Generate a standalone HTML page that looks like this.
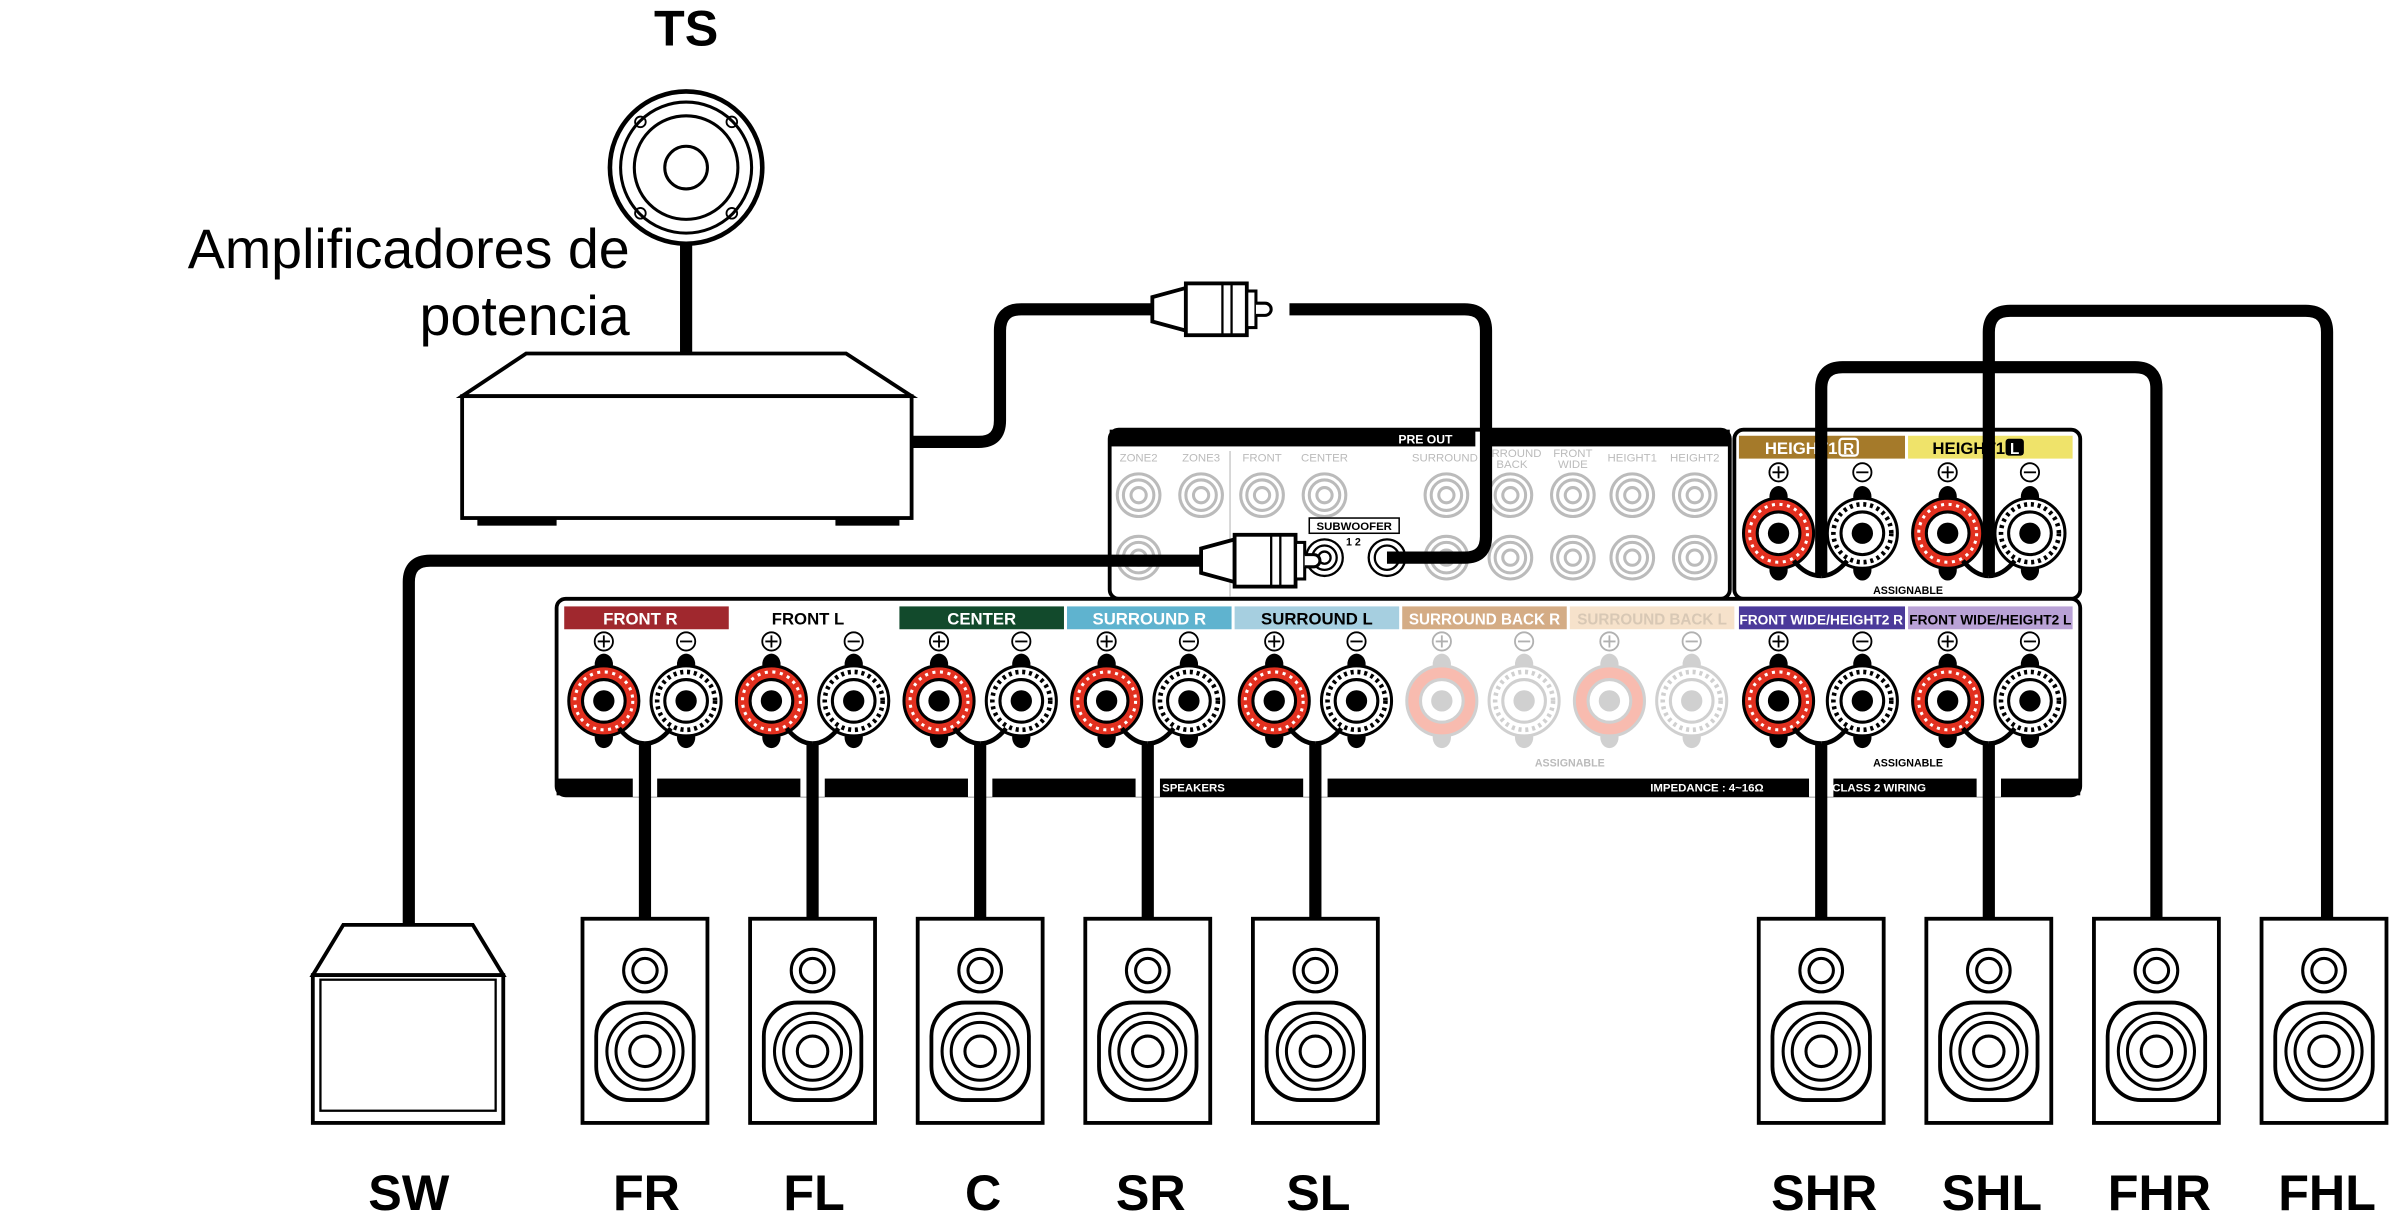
<!DOCTYPE html>
<html><head><meta charset="utf-8"><style>
html,body{margin:0;padding:0;background:#fff;}
svg{display:block;}
text{font-family:"Liberation Sans",Arial,sans-serif;}
</style></head><body>
<svg width="2390" height="1225" viewBox="0 0 1568 804" xmlns="http://www.w3.org/2000/svg">
<defs>
<g id="tp">
 <ellipse cx="0" cy="-24" rx="6" ry="7" fill="#000"/>
 <ellipse cx="0" cy="24" rx="6" ry="7" fill="#000"/>
 <circle r="23" fill="#e2301f" stroke="#000" stroke-width="2"/>
 <circle r="19" fill="none" stroke="#fff" stroke-width="2" stroke-dasharray="2 3"/>
 <circle r="14" fill="#fff" stroke="#000" stroke-width="2"/>
 <circle r="7" fill="#000"/>
</g>
<g id="tm">
 <ellipse cx="0" cy="-24" rx="6" ry="7" fill="#000"/>
 <ellipse cx="0" cy="24" rx="6" ry="7" fill="#000"/>
 <circle r="23" fill="#fff" stroke="#000" stroke-width="2"/>
 <circle r="19" fill="none" stroke="#000" stroke-width="3" stroke-dasharray="2 2.5"/>
 <circle r="14" fill="#fff" stroke="#000" stroke-width="2"/>
 <circle r="7" fill="#000"/>
</g>
<g id="tpf" opacity="0.45">
 <ellipse cx="0" cy="-24" rx="6" ry="7" fill="#999"/>
 <ellipse cx="0" cy="24" rx="6" ry="7" fill="#999"/>
 <circle r="23" fill="#f06a50" stroke="#999" stroke-width="2"/>
 <circle r="14" fill="#fff" stroke="#999" stroke-width="2"/>
 <circle r="7" fill="#999"/>
</g>
<g id="tmf" opacity="0.45">
 <ellipse cx="0" cy="-24" rx="6" ry="7" fill="#999"/>
 <ellipse cx="0" cy="24" rx="6" ry="7" fill="#999"/>
 <circle r="23" fill="#fff" stroke="#999" stroke-width="2"/>
 <circle r="19" fill="none" stroke="#999" stroke-width="3" stroke-dasharray="2 2.5"/>
 <circle r="14" fill="#fff" stroke="#999" stroke-width="2"/>
 <circle r="7" fill="#999"/>
</g>
<g id="plus"><circle r="6" fill="#fff" stroke="#000" stroke-width="1.2"/><path d="M-4 0H4M0 -4V4" stroke="#000" stroke-width="1.2"/></g>
<g id="minus"><circle r="6" fill="#fff" stroke="#000" stroke-width="1.2"/><path d="M-4 0H4" stroke="#000" stroke-width="1.2"/></g>
<g id="jack"><circle r="14" fill="#fff" stroke="#bbb" stroke-width="2"/><circle r="10" fill="none" stroke="#bbb" stroke-width="2"/><circle r="5" fill="none" stroke="#bbb" stroke-width="2"/></g>
<g id="spk">
 <rect x="-41" y="0" width="82" height="134" fill="#fff" stroke="#000" stroke-width="2.5"/>
 <circle cx="0" cy="34" r="14" fill="none" stroke="#000" stroke-width="2"/>
 <circle cx="0" cy="34" r="8" fill="none" stroke="#000" stroke-width="2"/>
 <rect x="-32" y="55" width="64" height="64" rx="22" fill="none" stroke="#000" stroke-width="2.5"/>
 <circle cx="0" cy="87" r="25" fill="none" stroke="#000" stroke-width="2"/>
 <circle cx="0" cy="87" r="19" fill="none" stroke="#000" stroke-width="2"/>
 <circle cx="0" cy="87" r="10" fill="none" stroke="#000" stroke-width="2"/>
</g>
<g id="rca">
 <path d="M0 -8 L22 -14 V14 L0 8Z" fill="#fff" stroke="#000" stroke-width="2.5"/>
 <rect x="22" y="-17" width="40" height="34" fill="#fff" stroke="#000" stroke-width="2.5"/>
 <path d="M46 -17V17M52 -17V17" stroke="#000" stroke-width="1.5"/>
 <rect x="62" y="-12" width="6" height="24" fill="#fff" stroke="#000" stroke-width="2"/>
 <path d="M68 -4 H74 a4 4 0 0 1 0 8 H68" fill="#fff" stroke="#000" stroke-width="2"/>
</g>
</defs>

<!-- TS -->
<text x="450" y="30" font-size="33" font-weight="bold" text-anchor="middle">TS</text>
<circle cx="450" cy="110" r="50" fill="#fff" stroke="#000" stroke-width="3"/>
<circle cx="450" cy="110" r="43" fill="none" stroke="#000" stroke-width="2"/>
<circle cx="450" cy="110" r="34" fill="none" stroke="#000" stroke-width="2"/>
<circle cx="450" cy="110" r="14" fill="none" stroke="#000" stroke-width="2"/>
<circle cx="420" cy="80" r="3.5" fill="none" stroke="#000" stroke-width="1.2"/>
<circle cx="480" cy="80" r="3.5" fill="none" stroke="#000" stroke-width="1.2"/>
<circle cx="420" cy="140" r="3.5" fill="none" stroke="#000" stroke-width="1.2"/>
<circle cx="480" cy="140" r="3.5" fill="none" stroke="#000" stroke-width="1.2"/>
<path d="M450 160V233" stroke="#000" stroke-width="8"/>
<text x="413" y="176" font-size="36.5" text-anchor="end">Amplificadores de</text>
<text x="413" y="220" font-size="36.5" text-anchor="end">potencia</text>

<!-- amp -->
<path d="M303 260 L345 232 H555 L598 260 Z" fill="#fff" stroke="#000" stroke-width="2.5"/>
<rect x="303" y="260" width="295" height="80" fill="#fff" stroke="#000" stroke-width="2.5"/>
<rect x="313" y="340" width="52" height="5" fill="#000"/>
<rect x="548" y="340" width="42" height="5" fill="#000"/>

<!-- receiver top panels -->
<rect x="728" y="282" width="407" height="111" rx="6" fill="#fff" stroke="#000" stroke-width="2.5"/>
<rect x="728" y="282" width="240" height="11" fill="#000"/>
<rect x="974" y="282" width="161" height="11" fill="#000"/>
<text x="953" y="291" font-size="8" font-weight="bold" fill="#fff" text-anchor="end">PRE OUT</text>
<path d="M807 296V393" stroke="#ccc" stroke-width="1"/>
<g font-size="7.5" fill="#bbb" text-anchor="middle">
<text x="747" y="303">ZONE2</text><text x="788" y="303">ZONE3</text><text x="828" y="303">FRONT</text><text x="869" y="303">CENTER</text>
<text x="948" y="303">SURROUND</text><text x="995" y="300">RROUND</text><text x="992" y="307">BACK</text><text x="1032" y="300">FRONT</text><text x="1032" y="307">WIDE</text><text x="1071" y="303">HEIGHT1</text><text x="1112" y="303">HEIGHT2</text>
</g>
<g>
<use href="#jack" x="747" y="325"/><use href="#jack" x="788" y="325"/><use href="#jack" x="828" y="325"/><use href="#jack" x="869" y="325"/>
<use href="#jack" x="949" y="325"/><use href="#jack" x="991" y="325"/><use href="#jack" x="1032" y="325"/><use href="#jack" x="1071" y="325"/><use href="#jack" x="1112" y="325"/>
<use href="#jack" x="747" y="366"/><use href="#jack" x="828" y="366"/><use href="#jack" x="949" y="366"/><use href="#jack" x="991" y="366"/><use href="#jack" x="1032" y="366"/><use href="#jack" x="1071" y="366"/><use href="#jack" x="1112" y="366"/>
</g>
<rect x="859" y="340" width="59" height="10" fill="#fff" stroke="#000" stroke-width="1"/>
<text x="888.5" y="348" font-size="7.5" font-weight="bold" text-anchor="middle">SUBWOOFER</text>
<text x="888" y="358" font-size="7" font-weight="bold" text-anchor="middle">1 2</text>
<circle cx="869" cy="366" r="12" fill="#fff" stroke="#000" stroke-width="1.5"/><circle cx="869" cy="366" r="8" fill="none" stroke="#000" stroke-width="1.5"/><circle cx="869" cy="366" r="4" fill="none" stroke="#000" stroke-width="1.5"/>
<circle cx="910" cy="366" r="12" fill="#fff" stroke="#000" stroke-width="1.5"/><circle cx="910" cy="366" r="8" fill="none" stroke="#000" stroke-width="1.5"/>

<rect x="1138" y="282" width="227" height="111" rx="6" fill="#fff" stroke="#000" stroke-width="2.5"/>
<rect x="1141" y="286" width="109" height="15" fill="#a57a2a"/>
<rect x="1252" y="286" width="108" height="15" fill="#efe36a"/>
<text x="1158" y="298" font-size="11" font-weight="bold" fill="#fff">HEIGHT1</text>
<rect x="1207" y="288" width="12" height="11" rx="2" fill="none" stroke="#fff" stroke-width="1.5"/><text x="1213" y="298" font-size="10" font-weight="bold" fill="#fff" text-anchor="middle">R</text>
<text x="1268" y="298" font-size="11" font-weight="bold">HEIGHT1</text>
<rect x="1316" y="288" width="12" height="11" rx="2" fill="#000"/><text x="1322" y="298" font-size="10" font-weight="bold" fill="#fff" text-anchor="middle">L</text>
<use href="#plus" x="1167" y="310"/><use href="#minus" x="1222" y="310"/><use href="#plus" x="1278" y="310"/><use href="#minus" x="1332" y="310"/>
<use href="#tp" x="1167" y="350"/><use href="#tm" x="1222" y="350"/><use href="#tp" x="1278" y="350"/><use href="#tm" x="1332" y="350"/>
<text x="1252" y="390" font-size="7" font-weight="bold" text-anchor="middle">ASSIGNABLE</text>

<!-- main panel -->
<rect x="365" y="393" width="1000" height="129" rx="6" fill="#fff" stroke="#000" stroke-width="2.5"/>
<rect x="365" y="511" width="1000" height="11" fill="#000"/>
<g fill="#fff">
<rect x="415" y="510" width="16" height="13"/><rect x="525" y="510" width="16" height="13"/><rect x="635" y="510" width="16" height="13"/><rect x="745" y="510" width="16" height="13"/><rect x="855" y="510" width="16" height="13"/><rect x="1187" y="510" width="16" height="13"/><rect x="1297" y="510" width="16" height="13"/>
</g>
<text x="783" y="519.5" font-size="7.5" font-weight="bold" fill="#fff" text-anchor="middle">SPEAKERS</text>
<text x="1120" y="519.5" font-size="7.5" font-weight="bold" fill="#fff" text-anchor="middle">IMPEDANCE : 4~16Ω</text>
<text x="1233" y="519.5" font-size="7.5" font-weight="bold" fill="#fff" text-anchor="middle">CLASS 2 WIRING</text>

<g font-size="11" font-weight="bold" text-anchor="middle">
<rect x="370" y="398" width="108" height="15" fill="#a0282e"/><text x="420" y="410" fill="#fff">FRONT R</text>
<text x="530" y="410">FRONT L</text>
<rect x="590" y="398" width="108" height="15" fill="#124a2c"/><text x="644" y="410" fill="#fff">CENTER</text>
<rect x="700" y="398" width="108" height="15" fill="#5fb3cf"/><text x="754" y="410" fill="#fff">SURROUND R</text>
<rect x="810" y="398" width="108" height="15" fill="#a6cfe0"/><text x="864" y="410">SURROUND L</text>
<rect x="920" y="398" width="108" height="15" fill="#d4ac85"/><text x="974" y="410" fill="#fff" font-size="10">SURROUND BACK R</text>
<rect x="1030" y="398" width="108" height="15" fill="#f6e2cb"/><text x="1084" y="410" fill="#d8c8b5" font-size="10">SURROUND BACK L</text>
<rect x="1141" y="398" width="109" height="15" fill="#4b3a9a"/><text x="1195" y="410" fill="#fff" font-size="9">FRONT WIDE/HEIGHT2 R</text>
<rect x="1252" y="398" width="108" height="15" fill="#b9a2d6"/><text x="1306" y="410" font-size="9">FRONT WIDE/HEIGHT2 L</text>
</g>
<g>
<use href="#plus" x="396" y="421"/><use href="#minus" x="450" y="421"/>
<use href="#plus" x="506" y="421"/><use href="#minus" x="560" y="421"/>
<use href="#plus" x="616" y="421"/><use href="#minus" x="670" y="421"/>
<use href="#plus" x="726" y="421"/><use href="#minus" x="780" y="421"/>
<use href="#plus" x="836" y="421"/><use href="#minus" x="890" y="421"/>
<g opacity="0.3"><use href="#plus" x="946" y="421"/><use href="#minus" x="1000" y="421"/><use href="#plus" x="1056" y="421"/><use href="#minus" x="1110" y="421"/></g>
<use href="#plus" x="1167" y="421"/><use href="#minus" x="1222" y="421"/>
<use href="#plus" x="1278" y="421"/><use href="#minus" x="1332" y="421"/>
</g>
<g>
<use href="#tp" x="396" y="460"/><use href="#tm" x="450" y="460"/>
<use href="#tp" x="506" y="460"/><use href="#tm" x="560" y="460"/>
<use href="#tp" x="616" y="460"/><use href="#tm" x="670" y="460"/>
<use href="#tp" x="726" y="460"/><use href="#tm" x="780" y="460"/>
<use href="#tp" x="836" y="460"/><use href="#tm" x="890" y="460"/>
<use href="#tpf" x="946" y="460"/><use href="#tmf" x="1000" y="460"/>
<use href="#tpf" x="1056" y="460"/><use href="#tmf" x="1110" y="460"/>
<use href="#tp" x="1167" y="460"/><use href="#tm" x="1222" y="460"/>
<use href="#tp" x="1278" y="460"/><use href="#tm" x="1332" y="460"/>
</g>
<text x="1030" y="503" font-size="7" font-weight="bold" fill="#bbb" text-anchor="middle">ASSIGNABLE</text>
<text x="1252" y="503" font-size="7" font-weight="bold" text-anchor="middle">ASSIGNABLE</text>

<!-- speaker cables -->
<g fill="none" stroke="#000" stroke-width="8" stroke-linejoin="round">
<path d="M423 488V605"/><path d="M533 488V605"/><path d="M643 488V605"/><path d="M753 488V605"/><path d="M863 488V605"/>
<path d="M1195 488V605"/><path d="M1305 488V605"/>
<path d="M1195 378V255 q0-14 14-14 H1401 q14 0 14 14 V605"/>
<path d="M1305 378V218 q0-14 14-14 H1513 q14 0 14 14 V605"/>
</g>
<g fill="none" stroke-width="3">
<path d="M406 478 q8 10 17 10" stroke="#000"/><path d="M440 478 q-8 10 -17 10" stroke="#000"/>
<path d="M516 478 q8 10 17 10" stroke="#000"/><path d="M550 478 q-8 10 -17 10" stroke="#000"/>
<path d="M626 478 q8 10 17 10" stroke="#000"/><path d="M660 478 q-8 10 -17 10" stroke="#000"/>
<path d="M736 478 q8 10 17 10" stroke="#000"/><path d="M770 478 q-8 10 -17 10" stroke="#000"/>
<path d="M846 478 q8 10 17 10" stroke="#000"/><path d="M880 478 q-8 10 -17 10" stroke="#000"/>
<path d="M1177 478 q8 10 18 10" stroke="#000"/><path d="M1212 478 q-8 10 -17 10" stroke="#000"/>
<path d="M1288 478 q8 10 17 10" stroke="#000"/><path d="M1322 478 q-8 10 -17 10" stroke="#000"/>
<path d="M1177 368 q8 10 18 10" stroke="#000"/><path d="M1212 368 q-8 10 -17 10" stroke="#000"/>
<path d="M1288 368 q8 10 17 10" stroke="#000"/><path d="M1322 368 q-8 10 -17 10" stroke="#000"/>
</g>

<!-- RCA cables -->
<g fill="none" stroke="#000" stroke-width="8" stroke-linejoin="round">
<path d="M598 290 H642 q14 0 14 -14 V217 q0 -14 14 -14 H758"/>
<path d="M846 203 H961 q14 0 14 14 V352 q0 14 -14 14 H910"/>
<path d="M268 607 V382 q0 -14 14 -14 H790"/>
</g>
<use href="#rca" x="756" y="203"/>
<use href="#rca" x="788" y="368"/>

<!-- SW -->
<path d="M205 640 L225 607 H310 L330 640 Z" fill="#fff" stroke="#000" stroke-width="2.5"/>
<rect x="205" y="640" width="125" height="97" fill="#fff" stroke="#000" stroke-width="2.5"/>
<rect x="210" y="643" width="115" height="86" fill="none" stroke="#000" stroke-width="1.5"/>

<use href="#spk" x="423" y="603"/><use href="#spk" x="533" y="603"/><use href="#spk" x="643" y="603"/><use href="#spk" x="753" y="603"/><use href="#spk" x="863" y="603"/>
<use href="#spk" x="1195" y="603"/><use href="#spk" x="1305" y="603"/><use href="#spk" x="1415" y="603"/><use href="#spk" x="1525" y="603"/>

<g font-size="33" font-weight="bold" text-anchor="middle">
<text x="268" y="794">SW</text><text x="424" y="794">FR</text><text x="534" y="794">FL</text><text x="645" y="794">C</text><text x="755" y="794">SR</text><text x="865" y="794">SL</text>
<text x="1197" y="794">SHR</text><text x="1307" y="794">SHL</text><text x="1417" y="794">FHR</text><text x="1527" y="794">FHL</text>
</g>
</svg>
</body></html>
